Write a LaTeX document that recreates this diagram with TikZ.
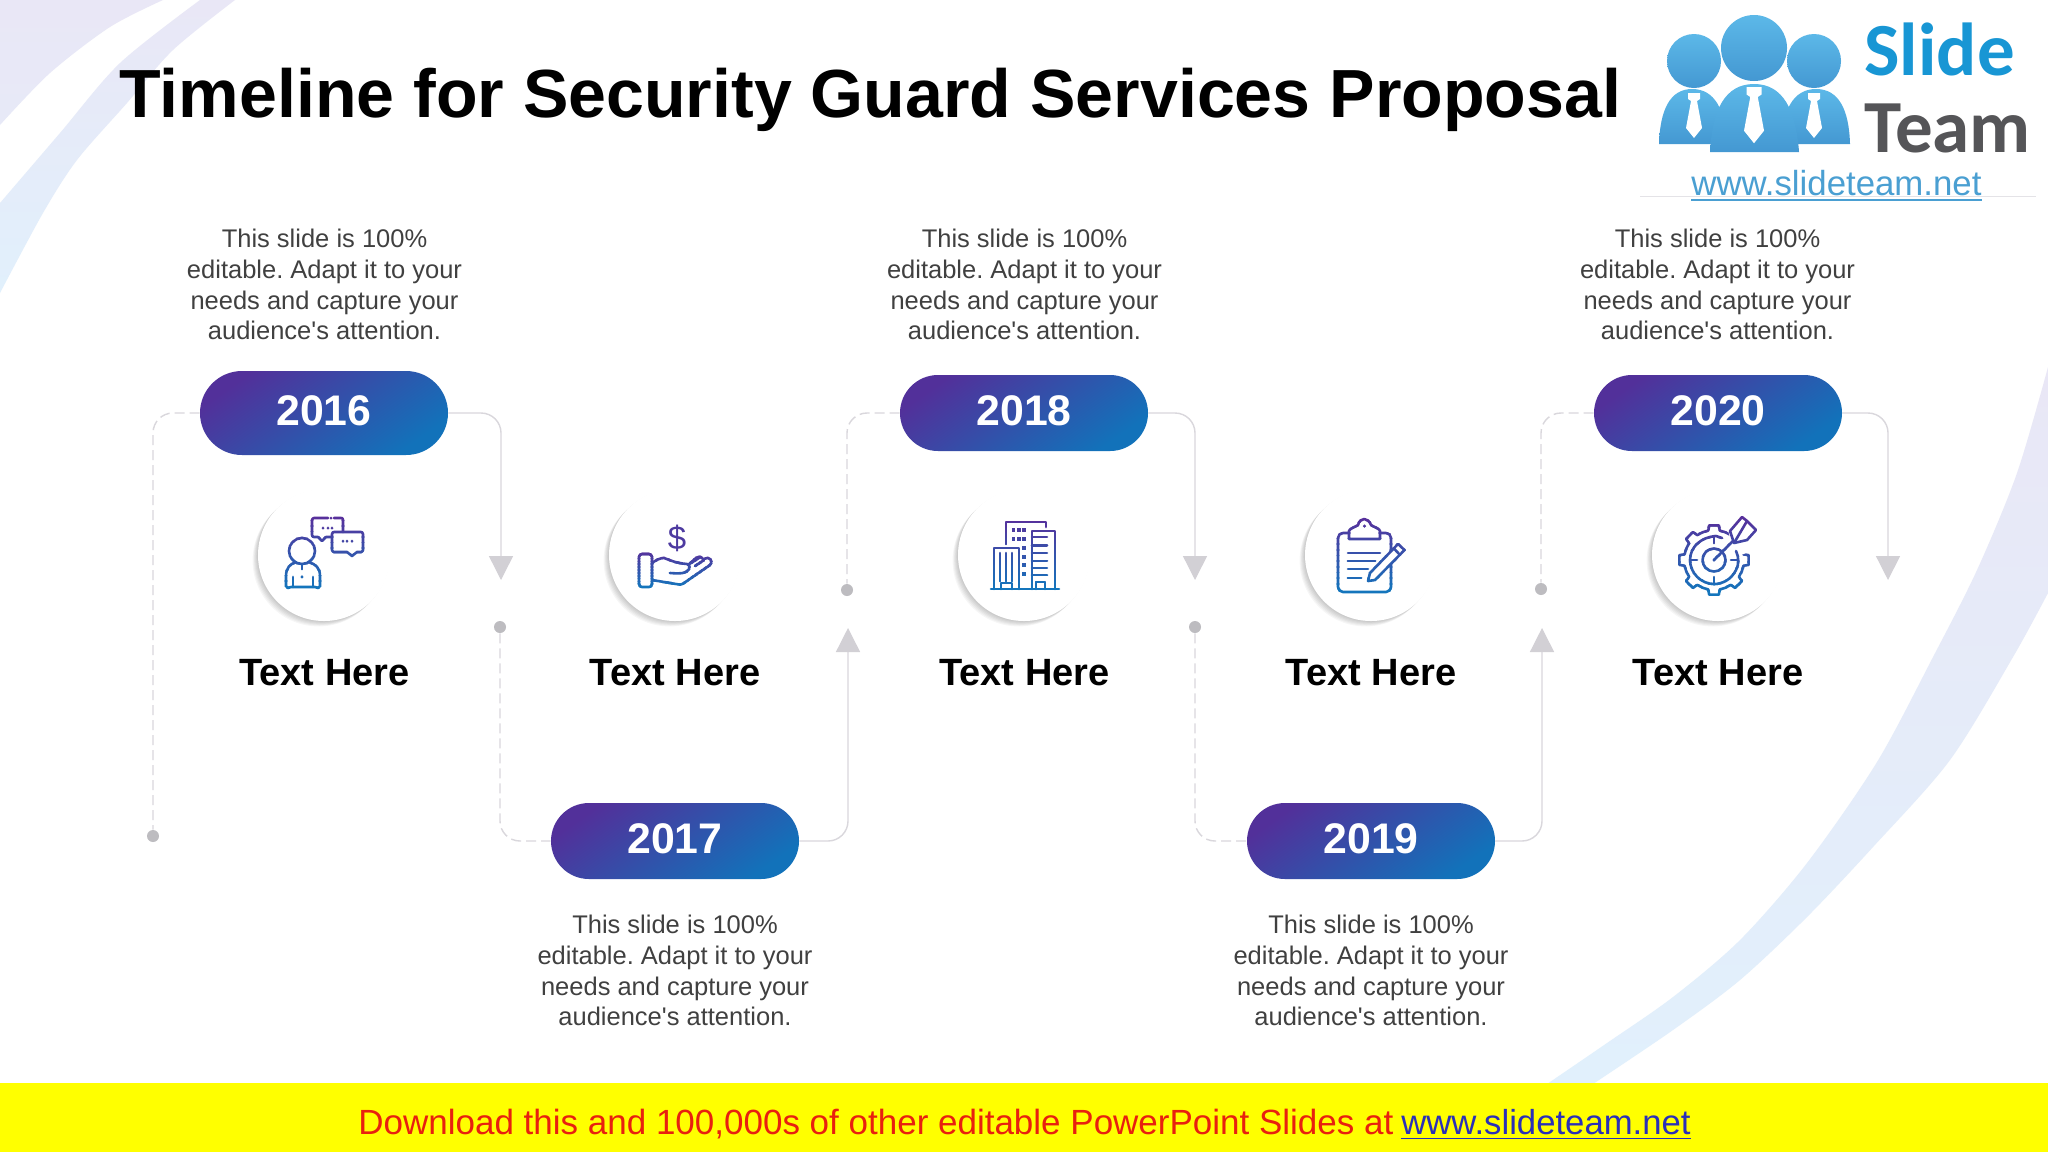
\documentclass[tikz,border=0pt]{standalone}
\usepackage{fontspec}
\setmainfont{Liberation Sans}
\newfontfamily\logofont{Carlito}
\usetikzlibrary{arrows.meta,calc}
\definecolor{iconpurple}{HTML}{57309B}
\definecolor{iconblue}{HTML}{1475BC}
\definecolor{pillA}{HTML}{52309A}
\definecolor{pillB}{HTML}{1272BA}
\definecolor{conn}{HTML}{D9D7DC}
\definecolor{tipc}{HTML}{D2D0D5}
\definecolor{dotc}{HTML}{BDBCC0}
\definecolor{bodytxt}{HTML}{404040}
\definecolor{logotop}{HTML}{5CB8E8}
\definecolor{logobot}{HTML}{4498D2}
\definecolor{linkc}{HTML}{4A9FD2}
\definecolor{bgA}{HTML}{E9E7F6}
\definecolor{bgB}{HTML}{E1F0FC}
\definecolor{footyellow}{HTML}{FFFF00}
\definecolor{footred}{HTML}{E8200F}
\definecolor{footblue}{HTML}{2A30B8}
\definecolor{slideblue}{HTML}{1896D4}
\definecolor{teamgray}{HTML}{555558}
\newcommand{\gradicon}[3]{%
  \foreach \bi in {0,...,13}{%
    \pgfmathsetmacro\pc{\bi/13*100}%
    \pgfmathsetmacro\yA{#1+(#2-#1)*\bi/14-0.4}%
    \pgfmathsetmacro\yB{#1+(#2-#1)*(\bi+1)/14+0.4}%
    \colorlet{icc}{iconblue!\pc!iconpurple}%
    \begin{scope}
      \clip (-10000,\yA) rectangle (10000,\yB);
      #3
    \end{scope}
  }%
}
\tikzset{
  x=.5pt,y=-.5pt,
  pill/.style={minimum width=124pt,inner sep=0pt,text depth=2.5pt,left color=pillA,right color=pillB,shading angle=35,text=white,font=\fontsize{21.4}{24}\bfseries\selectfont},
  tallpill/.style={pill,minimum height=42pt,rounded corners=21pt},
  lowpill/.style={pill,minimum height=38pt,rounded corners=19pt},
  blurb/.style={align=center,text=bodytxt,inner sep=0pt,font=\fontsize{12.75}{15.4}\selectfont\frenchspacing},
  heading/.style={inner sep=0pt,font=\fontsize{19}{22}\bfseries\selectfont,text=black},
  disc/.style={circle,fill=white,minimum size=66pt,inner sep=0pt},
  dot/.style={circle,fill=dotc,minimum size=6pt,inner sep=0pt},
  solidconn/.style={draw=conn,line width=.7pt,rounded corners=10pt,-{Triangle[width=12pt,length=12pt,color=tipc]}},
  dashconn/.style={draw=conn,line width=.7pt,rounded corners=10pt,dash pattern=on 5pt off 2.5pt},
  ic/.style={draw=icc,line width=1.3pt,line cap=round,line join=round},
  icw/.style={ic,fill=white},
  icdot/.style={fill=icc},
}
\newcommand{\discshadow}[2]{%
  \foreach \s in {1,...,6}{\fill[black,opacity=.035] (#1-\s*.9,#2+\s*.9) circle[radius=66];}%
}
\begin{document}
\begin{tikzpicture}
\useasboundingbox (0,0) rectangle (2048,1152);
\fill[white] (0,0) rectangle (2048,1152);
% background sweeps
\shade[top color=bgA,bottom color=bgA!75!bgB] (0,0) -- plot[smooth] coordinates {(163,0) (110,27) (50,73) (0,125)} -- cycle;
\shade[top color=bgA,bottom color=bgB] (200,0) -- plot[smooth] coordinates {(235,0) (173,50) (127,103) (77,160) (43,213) (0,293)} -- plot[smooth] coordinates {(0,203) (60,133) (120,63) (200,0)} -- cycle;
\shade[top color=bgA,bottom color=bgB] (2048,367) -- plot[smooth] coordinates {(2048,367) (2017,473) (1977,570) (1933,657) (1877,762) (1807,863) (1740,940) (1673,997) (1607,1043) (1547,1084)} -- plot[smooth] coordinates {(1593,1084) (1673,1030) (1740,980) (1807,917) (1873,847) (1950,760) (2013,657) (2048,593)} -- cycle;
% footer
\fill[footyellow] (0,1083) rectangle (2048,1152);
\node[anchor=base west,inner sep=0pt,text=footred,font=\fontsize{17.5}{20}\selectfont] (foot) at (358,1134) {Download this and 100,000s of other editable PowerPoint Slides at};
\node[anchor=base east,inner sep=0pt,text=footblue,font=\fontsize{17.35}{20}\selectfont] (footlink) at (1691,1134) {www.slideteam.net};
\draw[footblue,line width=.9pt] ([yshift=-2.2pt]footlink.base west) -- ([yshift=-2.2pt]footlink.base east);
% title
\node[anchor=base west,inner sep=0pt,font=\fontsize{34.06}{40}\bfseries\selectfont] (title) at (119,117) {Timeline for Security Guard Services Proposal};
% logo
\draw[conn!70!white,line width=.5pt] (1640,196) -- (2036,196);
\foreach \cx/\cy/\r in {1694/61/27,1814/61/27,1754/48/33}{\shade[top color=logotop,bottom color=logobot] (\cx,\cy) circle[radius=\r];}
\shade[top color=logotop,bottom color=logobot] (1659,144) .. controls (1660,110) and (1670,89) .. (1692,89) .. controls (1715,89) and (1725,110) .. (1728,144) -- cycle;
\shade[top color=logotop,bottom color=logobot] (1850,144) .. controls (1849,110) and (1839,89) .. (1816,89) .. controls (1793,89) and (1783,110) .. (1780,144) -- cycle;
\shade[top color=logotop,bottom color=logobot] (1710,152) .. controls (1712,110) and (1725,84) .. (1754,84) .. controls (1783,84) and (1796,110) .. (1799,152) -- cycle;
\foreach \tx/\ty/\ts in {1694/93/1,1814/93/1,1754/87/1.25}{
  \fill[white,shift={(\tx,\ty)},x=\ts*.5pt,y=-\ts*.5pt] (-6,0) -- (6,0) -- (6,6) -- (3,8) -- (8,35) -- (0,45) -- (-8,35) -- (-3,8) -- (-6,6) -- cycle;
}
\node[anchor=base west,inner sep=0pt,text=slideblue,font=\fontsize{37.5}{44}\logofont\bfseries\selectfont] (lgA) at (1864,75) {Slide};
\node[anchor=base west,inner sep=0pt,text=teamgray,font=\fontsize{37.5}{44}\logofont\bfseries\selectfont] (lgB) at (1864,152) {Team};
\node[anchor=base west,inner sep=0pt,text=linkc,font=\fontsize{17.4}{20}\selectfont] (lgC) at (1691,195) {www.slideteam.net};
\draw[linkc,line width=1pt] ([yshift=-2.4pt]lgC.base west) -- ([yshift=-2.4pt]lgC.base east);
% circles
\discshadow{324}{555}\discshadow{675}{555}\discshadow{1024}{555}\discshadow{1371}{555}\discshadow{1718}{555}
\foreach \n/\cx in {a/324,b/675,c/1024,d/1371,e/1718}{\node[disc] (disc\n) at (\cx,555) {};}
% connector ends
\coordinate (tipA) at (501,580);
\coordinate (tipB) at (848,628);
\coordinate (tipC) at (1195,580);
\coordinate (tipD) at (1542,628);
\coordinate (tipE) at (1888,580);
\node[dot] (dotA) at (153,836) {};
\node[dot] (dotB) at (500,627) {};
\node[dot] (dotC) at (847,590) {};
\node[dot] (dotD) at (1195,627) {};
\node[dot] (dotE) at (1541,589) {};
% pills
\node[tallpill] (y2016) at (324,413) {2016};
\node[lowpill] (y2017) at (675,841) {2017};
\node[lowpill] (y2018) at (1024,413) {2018};
\node[lowpill] (y2019) at (1371,841) {2019};
\node[lowpill] (y2020) at (1718,413) {2020};
% connectors
\draw[dashconn] (y2016.west) -| (dotA);
\draw[solidconn] (y2016.east) -| (tipA);
\draw[dashconn] (dotB) |- (y2017.west);
\draw[solidconn] (y2017.east) -| (tipB);
\draw[dashconn] (y2018.west) -| (dotC);
\draw[solidconn] (y2018.east) -| (tipC);
\draw[dashconn] (dotD) |- (y2019.west);
\draw[solidconn] (y2019.east) -| (tipD);
\draw[dashconn] (y2020.west) -| (dotE);
\draw[solidconn] (y2020.east) -| (tipE);
% texts
\foreach \n/\cx/\cy in {a/324.5/284.5,c/1024.5/284.5,e/1717.5/284.5,b/675/970.5,d/1371/970.5}{
  \node[blurb] (blurb\n) at (\cx,\cy) {This slide is 100\%\\editable. Adapt it to your\\needs and capture your\\audience\textquotesingle s attention.};
}
\foreach \n/\cx in {a/324.5,b/675,c/1024.5,d/1371,e/1718}{
  \node[heading] (head\n) at (\cx,673) {Text Here};
}
% icon 1: person and speech bubbles
\gradicon{515}{592}{
  \draw[ic] (302,551) circle[radius=13];
  \draw[ic] (296,562) .. controls (290,564) and (286,568) .. (286,576) -- (286,586) .. controls (286,588) and (289,589) .. (291,587) -- (315,587) .. controls (317,589) and (320,588) .. (320,586) -- (320,576) .. controls (320,568) and (316,564) .. (308,562);
  \draw[ic] (293,577) -- (293,587) (313,577) -- (313,587) (302,564) -- (302,569);
  \fill[icdot] (302,577) circle[radius=1.6];
  \draw[ic] (343,532) -- (343,520) .. controls (343,518) and (342,518) .. (341,518) -- (334,518) (328,518) -- (314,518) .. controls (313,518) and (312,519) .. (312,520) -- (312,535) .. controls (312,536) and (313,537) .. (314,537) -- (318,537) -- (322,541) -- (326,537) -- (332,537);
  \draw[ic] (334,532) -- (361,532) .. controls (362,532) and (363,533) .. (363,534) -- (363,550) .. controls (363,551) and (362,552) .. (361,552) -- (357,552) -- (352,556) -- (347,552) -- (334,552) .. controls (333,552) and (332,551) .. (332,550) -- (332,534) .. controls (332,533) and (333,532) .. (334,532) -- cycle;
  \foreach \px/\py in {323/528,328/528,332/528,343/541,347/541,352/541,331/518}{\fill[icdot] (\px,\py) circle[radius=1.5];}
}
% icon 2: hand with coin sign
\gradicon{550}{590}{
  \draw[ic,rounded corners=1.5pt] (639,554) rectangle (652,587);
  \draw[ic] (652,563) .. controls (656,560) and (660,558) .. (664,558) .. controls (670,560) and (675,563) .. (687,564) .. controls (689,564) and (690,566) .. (689,569) .. controls (687,573) and (682,574) .. (670,573);
  \draw[ic] (688,565) -- (696,558) .. controls (700,556) and (702,557) .. (703,559) -- (708,558) .. controls (712,559) and (712,563) .. (710,565) -- (684,583) .. controls (681,585) and (679,585) .. (676,584) -- (652,580);
  \draw[ic] (691,563) -- (699,558) (695,566) -- (704,560);
}
\node[inner sep=0pt,text=iconpurple!85!iconblue,font=\fontsize{16.5}{18}\selectfont] (coin) at (677,538) {\$};
% icon 3: buildings
\gradicon{518}{592}{
  \draw[ic] (991,589) -- (1059,589);
  \draw[ic] (994,589) -- (994,548) -- (1019,548) -- (1019,589);
  \draw[ic] (1000,553) -- (1000,581) (1006,553) -- (1006,581) (1012,553) -- (1012,581);
  \draw[ic] (1001,589) -- (1001,583) -- (1012,583) -- (1012,589);
  \draw[ic] (1006,544) -- (1006,522) -- (1046,522) -- (1046,527);
  \draw[ic] (1032,589) -- (1032,531) -- (1055,531) -- (1055,589);
  \draw[ic] (1032,537) -- (1047,537) (1032,545.5) -- (1047,545.5) (1032,553) -- (1047,553) (1032,561) -- (1047,561) (1032,568) -- (1047,568) (1032,575) -- (1047,575);
  \draw[ic] (1036,589) -- (1036,582) -- (1045,582) -- (1045,589);
  \foreach \px/\py in {1013.5/530,1019/530,1024/530,1013.5/539,1019/539,1024/539,1024/548,1024/557,1024/565,1024/574}{\fill[icdot] (\px-1.6,\py-2) rectangle (\px+1.6,\py+2);}
}
% icon 4: clipboard and pencil
\gradicon{516}{595}{
  \draw[ic,rounded corners=2.5pt] (1349,533) -- (1338,533) -- (1338,592) -- (1391,592) -- (1391,533) -- (1380,533);
  \draw[ic] (1349,539) -- (1349,531) .. controls (1349,529) and (1355,527) .. (1358,525) .. controls (1360,517) and (1368,517) .. (1371,525) .. controls (1374,527) and (1380,529) .. (1380,531) -- (1380,539) -- cycle;
  \fill[icdot] (1364.5,526) circle[radius=1.6];
  \draw[ic] (1348,553) -- (1380,553) (1348,561) -- (1375,561) (1348,569) -- (1368,569) (1348,578) -- (1361,578);
  \draw[icw] (1370,573) -- (1398,544) -- (1404.5,550) -- (1375,580) -- (1368,581) -- cycle;
  \draw[ic] (1393.5,548) -- (1400,555);
}
% icon 5: gear and arrow
\gradicon{515}{597}{
  \begin{scope}[shift={(1714,560)}]
    \foreach \k in {0,...,7}{
      \pgfmathsetmacro\ag{\k*45}
      \draw[ic] ({\ag-22.5}:30) -- ({\ag-11}:30) -- ({\ag-8}:35) -- ({\ag+8}:35) -- ({\ag+11}:30) -- ({\ag+22.5}:30);
    }
    \fill[white] (12,-40) -- (44,-40) -- (44,-12) -- (20,-2) -- cycle;
    \draw[ic] (0,-24) -- (0,-17) (24,0) -- (17,0) (-24,0) -- (-17,0) (0,24) -- (0,17);
    \draw[ic] (22,-9) .. controls (25,-3) and (25,5) .. (22,10) .. controls (17,20) and (8,24) .. (0,24) .. controls (-13,24) and (-24,13) .. (-24,0) .. controls (-24,-13) and (-13,-23) .. (2,-24) -- (8,-22);
    \draw[ic] (0,0) circle[radius=11.5];
    \fill[icdot] (0,0) circle[radius=1.6];
    \draw[ic] (0,0) -- (30,-30);
    \draw[icw] (16,-29) -- (28,-43) -- (33,-39) -- (42,-30) -- (33,-20) -- (20,-17) -- cycle;
    \draw[ic] (20,-17) -- (33,-39);
  \end{scope}
}
\end{tikzpicture}
\end{document}
